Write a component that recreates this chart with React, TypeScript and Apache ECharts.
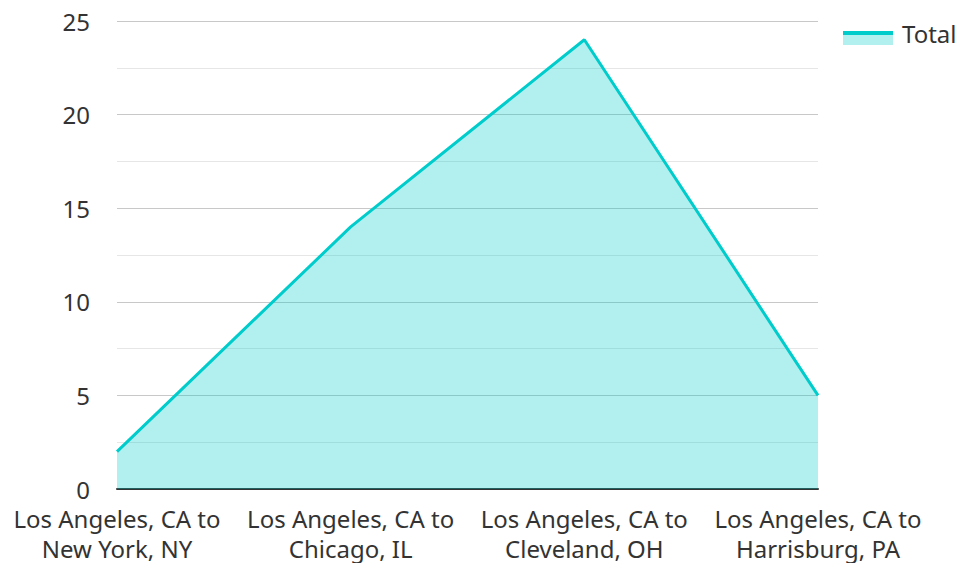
import React, { useEffect, useRef } from "react";
import * as echarts from "echarts";

const categories = [
  "Los Angeles, CA to\nNew York, NY",
  "Los Angeles, CA to\nChicago, IL",
  "Los Angeles, CA to\nCleveland, OH",
  "Los Angeles, CA to\nHarrisburg, PA",
];
const totalValues = [2, 14, 24, 5];
const seriesName = "Total";

export default function App() {
  const ref = useRef<HTMLDivElement>(null);
  useEffect(() => {
    document.body.style.margin = "0";
    const chart = echarts.init(ref.current!, null, { renderer: "svg" });
    const font = "'Noto Sans', sans-serif";
    const color = "#00CCCC";
    const textColor = "#333333";
    chart.setOption({
      animation: false,
      textStyle: { fontFamily: font },
      grid: { left: 117, right: 141, top: 21, bottom: 74 },
      xAxis: {
        type: "category",
        data: categories,
        boundaryGap: false,
        axisLine: { lineStyle: { color: "#333333", width: 2 } },
        axisTick: { show: false },
        axisLabel: {
          color: textColor,
          fontSize: 24,
          fontFamily: font,
          lineHeight: 30,
          margin: 14,
          interval: 0,
        },
      },
      yAxis: {
        type: "value",
        min: 0,
        max: 25,
        interval: 5,
        axisLine: { show: false },
        axisTick: { show: false },
        axisLabel: { color: textColor, fontSize: 24, fontFamily: font, margin: 27 },
        splitLine: { lineStyle: { color: "#C8C8C8", width: 1 } },
        minorTick: { show: false, splitNumber: 2 },
        minorSplitLine: { show: true, lineStyle: { color: "#E6E6E6", width: 1 } },
      },
      series: [
        {
          name: seriesName,
          type: "line",
          data: totalValues,
          symbol: "none",
          lineStyle: { color, width: 3 },
          itemStyle: { color },
          areaStyle: { color: "rgba(0,204,204,0.3)", opacity: 1 },
        },
      ],
      graphic: [
        { type: "rect", shape: { x: 843, y: 35, width: 50, height: 10 }, style: { fill: "rgba(0,204,204,0.3)" } },
        { type: "rect", shape: { x: 843, y: 31, width: 50, height: 4 }, style: { fill: color } },
        {
          type: "text",
          x: 902,
          y: 33,
          style: { text: seriesName, fill: textColor, font: `24px ${font}`, textVerticalAlign: "middle" },
        },
      ],
    });
    return () => chart.dispose();
  }, []);
  return <div ref={ref} style={{ width: 959, height: 563, position: "absolute", left: 0, top: 0 }} />;
}
